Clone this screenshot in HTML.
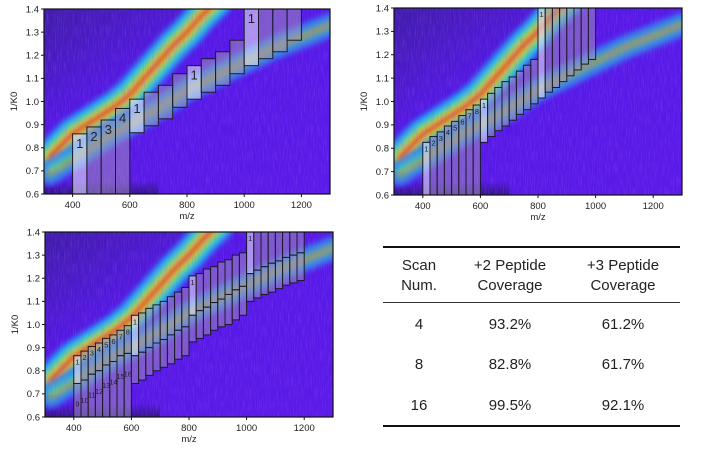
<!DOCTYPE html>
<html><head><meta charset="utf-8">
<style>
html,body{margin:0;padding:0;background:#fff;}
body{width:708px;height:449px;overflow:hidden;position:relative;font-family:"Liberation Sans",sans-serif;}
svg{position:absolute;left:0;top:0;}
text{font-family:"Liberation Sans",sans-serif;}
.tbl{position:absolute;font-size:15px;color:#222;text-align:center;}
</style></head>
<body>
<svg id="chart" width="708" height="449">
<defs>
<filter id="blur" x="-10%" y="-10%" width="120%" height="120%"><feGaussianBlur stdDeviation="2.5"/></filter>
<filter id="speckle" x="0" y="0" width="100%" height="100%">
<feTurbulence type="fractalNoise" baseFrequency="0.9 0.08" numOctaves="2" seed="3" result="n"/>
<feColorMatrix in="n" type="matrix" values="0 0 0 0 0.33  0 0 0 0 0.1  0 0 0 0 0.9  0 0 0 -2.2 1.25"/>
</filter>
<linearGradient id="bg" x1="0" y1="0" x2="1" y2="1">
<stop offset="0" stop-color="#3f1ca8"/><stop offset="0.35" stop-color="#5518e6"/><stop offset="1" stop-color="#5a1ae8"/>
</linearGradient>
<linearGradient id="bot" x1="0" y1="1" x2="0" y2="0">
<stop offset="0" stop-color="#2a1470" stop-opacity="0.8"/><stop offset="1" stop-color="#2a1470" stop-opacity="0"/>
</linearGradient>
</defs>
</svg>

<div>
<div style="position:absolute;left:383px;top:246px;width:297px;height:2px;background:#111;"></div>
<div style="position:absolute;left:383px;top:302px;width:297px;height:1px;background:#333;"></div>
<div style="position:absolute;left:383px;top:425px;width:297px;height:2px;background:#111;"></div>
<div class="tbl" style="left:369px;top:256px;width:100px;line-height:20px;">Scan<br>Num.</div>
<div class="tbl" style="left:450px;top:256px;width:120px;line-height:20px;">+2 Peptide<br>Coverage</div>
<div class="tbl" style="left:563px;top:256px;width:120px;line-height:20px;">+3 Peptide<br>Coverage</div>
<div class="tbl" style="left:369px;top:316px;width:100px;">4</div>
<div class="tbl" style="left:450px;top:316px;width:120px;">93.2%</div>
<div class="tbl" style="left:563px;top:316px;width:120px;">61.2%</div>
<div class="tbl" style="left:369px;top:356px;width:100px;">8</div>
<div class="tbl" style="left:450px;top:356px;width:120px;">82.8%</div>
<div class="tbl" style="left:563px;top:356px;width:120px;">61.7%</div>
<div class="tbl" style="left:369px;top:397px;width:100px;">16</div>
<div class="tbl" style="left:450px;top:397px;width:120px;">99.5%</div>
<div class="tbl" style="left:563px;top:397px;width:120px;">92.1%</div>
</div>

<script>
// density bands (m/z, 1/K0)
const upperBandMz = [320, 360, 400, 450, 500, 550, 600, 650, 700, 750, 800, 850, 900];
const upperBandK0 = [0.76, 0.81, 0.86, 0.90, 0.94, 0.98, 1.03, 1.10, 1.17, 1.24, 1.30, 1.37, 1.43];
const lowerBandMz = [320, 360, 400, 450, 500, 550, 600, 700, 800, 900, 1000, 1100, 1200, 1300];
const lowerBandK0 = [0.69, 0.72, 0.75, 0.79, 0.83, 0.87, 0.90, 0.97, 1.05, 1.11, 1.17, 1.23, 1.28, 1.33];
const xTicks = [400, 600, 800, 1000, 1200];
const yTicks = [0.6, 0.7, 0.8, 0.9, 1.0, 1.1, 1.2, 1.3, 1.4];

// 4-scan windows
const w4Start = [400,450,500,550,600,650,700,750,800,850,900,950,1000,1050,1100,1150];
const w4Low   = [0.6,0.6,0.6,0.6,0.865,0.895,0.925,0.975,1.01,1.04,1.07,1.12,1.155,1.185,1.215,1.265];
const w4High  = [0.86,0.89,0.92,0.97,1.01,1.04,1.07,1.12,1.155,1.185,1.215,1.265,1.4,1.4,1.4,1.4];
const w4Label = ["1","2","3","4","1","","","","1","","","","1","","",""];
const w4Width = 50;

// 8-scan windows
const w8Start = [400,425,450,475,500,525,550,575,600,625,650,675,700,725,750,775,800,825,850,875,900,925,950,975];
const w8Low   = [0.6,0.6,0.6,0.6,0.6,0.6,0.6,0.6,0.825,0.85,0.875,0.895,0.92,0.945,0.965,0.99,1.015,1.04,1.06,1.085,1.11,1.135,1.16,1.18];
const w8High  = [0.825,0.85,0.87,0.895,0.915,0.94,0.965,0.985,1.01,1.035,1.06,1.085,1.105,1.13,1.155,1.18,1.4,1.4,1.4,1.4,1.4,1.4,1.4,1.4];
const w8Label = ["1","2","3","4","5","6","7","8","1","","","","","","","","1","","","","","","",""];
const w8Width = 25;

// 16-scan windows (upper scan 1-8, lower scan 9-16 per column)
const w16Start = [400,425,450,475,500,525,550,575,600,625,650,675,700,725,750,775,800,825,850,875,900,925,950,975,1000,1025,1050,1075,1100,1125,1150,1175];
const w16Low   = [0.6,0.6,0.6,0.6,0.6,0.6,0.6,0.6,0.745,0.76,0.78,0.80,0.815,0.83,0.85,0.865,0.925,0.94,0.955,0.975,0.99,1.0,1.02,1.04,1.10,1.115,1.13,1.14,1.155,1.17,1.18,1.19];
const w16Mid   = [0.745,0.76,0.785,0.80,0.825,0.84,0.865,0.875,0.865,0.88,0.90,0.92,0.935,0.955,0.975,0.99,1.04,1.06,1.075,1.095,1.11,1.13,1.15,1.165,1.22,1.235,1.25,1.265,1.275,1.29,1.30,1.31];
const w16High  = [0.865,0.885,0.905,0.92,0.94,0.955,0.975,0.995,1.04,1.05,1.07,1.085,1.10,1.12,1.14,1.16,1.21,1.22,1.24,1.25,1.27,1.28,1.30,1.31,1.4,1.4,1.4,1.4,1.4,1.4,1.4,1.4];
const w16UpLabel = ["1","2","3","4","5","6","7","8","1","","","","","","","","1","","","","","","","","1","","","","","","",""];
const w16LoLabel = ["9","10","11","12","13","14","15","16","","","","","","","","","","","","","","","","","","","","","","","",""];
const w16Width = 25;

const NS = "http://www.w3.org/2000/svg";
const svg = document.getElementById('chart');
function mk(tag, attrs, parent){
  const e = document.createElementNS(NS, tag);
  for (const k in attrs) e.setAttribute(k, attrs[k]);
  (parent||svg).appendChild(e);
  return e;
}

function drawPlot(id, g){
  const xS = v => g.x0 + (v-300)/1000*(g.x1-g.x0);
  const yS = v => g.y1 - (v-0.6)/0.8*(g.y1-g.y0);
  const grp = mk('g', {});
  
  
  const clipId = id + '-clip';
  const cp = mk('clipPath', {id: clipId}, grp);
  mk('rect', {x:g.x0, y:g.y0, width:g.x1-g.x0, height:g.y1-g.y0}, cp);
  const heat = mk('g', {'clip-path':'url(#'+clipId+')'}, grp);
  
  
  mk('rect', {x:g.x0, y:g.y0, width:g.x1-g.x0, height:g.y1-g.y0, fill:'url(#bg)'}, heat);
  const bb = mk('rect', {x:g.x0, y:yS(0.66), width:(xS(700)-g.x0), height:yS(0.6)-yS(0.66), fill:'url(#bot)'}, heat);
  
  
  function band(mz, k0, widths, colors, op, name){
    let d = '';
    for (let i=0;i<mz.length;i++) d += (i?'L':'M') + xS(mz[i]).toFixed(1) + ' ' + yS(k0[i]).toFixed(1);
    const bg = mk('g', {filter:'url(#blur)', opacity:op}, heat);
    
    
    for (let j=0;j<widths.length;j++){
      mk('path', {d:d, fill:'none', stroke:colors[j], 'stroke-width':widths[j], 'stroke-linecap':'round', 'stroke-linejoin':'round'}, bg);
    }
  }
  band(upperBandMz, upperBandK0, [34,26,18,10,5], ['#2f6df5','#1fc8e8','#5ee05a','#e8d030','#e83a20'], 0.95, 'charge1-band');
  band(lowerBandMz, lowerBandK0, [26,18,10,4], ['#3a5ef0','#2aa8e8','#44c080','#a8c040'], 0.8, 'charge2-band');
  const sp = mk('rect', {x:g.x0, y:g.y0, width:g.x1-g.x0, height:g.y1-g.y0, filter:'url(#speckle)', opacity:0.3}, heat);
  
  
  // windows
  for (let i=0;i<g.start.length;i++){
    const x = xS(g.start[i]), w = xS(g.start[i]+g.width)-x;
    const boxes = g.mid ? [[g.mid[i], g.high[i], g.up[i]], [g.low[i], g.mid[i], g.lo[i]]] : [[g.low[i], g.high[i], g.up[i]]];
    boxes.forEach((b, bi) => {
      const scan1 = (bi===0 && b[2]==='1');
      const r = mk('rect', {x:x, y:yS(b[1]), width:w, height:yS(b[0])-yS(b[1]),
        fill: scan1 ? 'rgba(225,220,245,0.62)' : 'rgba(165,150,185,0.5)', stroke:'#1a1a2a', 'stroke-width':1}, heat);
      
      
      if (b[2]){
        const small = g.width < 50;
        let ty = yS(b[1]) + (small?9:14);
        if (bi===1) ty = yS(b[1]-0.1);
        const t = mk('text', {x:x+w/2, y:ty, 'text-anchor':'middle', 'font-size': small?7.5:13, fill:'#222'}, heat);
        t.textContent = b[2];
        
        
      }
    });
  }
  const fr = mk('rect', {x:g.x0, y:g.y0, width:g.x1-g.x0, height:g.y1-g.y0, fill:'none', stroke:'#111', 'stroke-width':1.2}, grp);
  
  
  xTicks.forEach(v => {
    mk('line', {x1:xS(v), x2:xS(v), y1:g.y1, y2:g.y1+3, stroke:'#111'}, grp);
    const t = mk('text', {x:xS(v), y:g.y1+14, 'text-anchor':'middle', 'font-size':9.5, fill:'#222'}, grp);
    t.textContent = v;
    
    
  });
  yTicks.forEach(v => {
    mk('line', {x1:g.x0-3, x2:g.x0, y1:yS(v), y2:yS(v), stroke:'#111'}, grp);
    const t = mk('text', {x:g.x0-5, y:yS(v)+3.3, 'text-anchor':'end', 'font-size':9.5, fill:'#222'}, grp);
    t.textContent = v.toFixed(1);
    
    
  });
  const xl = mk('text', {x:(g.x0+g.x1)/2, y:g.y1+25, 'text-anchor':'middle', 'font-size':9.5, fill:'#222'}, grp);
  xl.textContent = 'm/z';
  
  
  const yc = (g.y0+g.y1)/2, yx = g.x0-27;
  const yl = mk('text', {x:yx, y:yc, 'text-anchor':'middle', 'font-size':9.5, fill:'#222', transform:'rotate(-90 '+yx+' '+yc+')'}, grp);
  yl.textContent = '1/K0';
  
  
}

drawPlot('plot-4-scans', {x0:44, x1:330, y0:9, y1:194, start:w4Start, low:w4Low, high:w4High, up:w4Label, width:w4Width});
drawPlot('plot-8-scans', {x0:394, x1:682, y0:8, y1:195, start:w8Start, low:w8Low, high:w8High, up:w8Label, width:w8Width});
drawPlot('plot-16-scans', {x0:45, x1:333, y0:232, y1:417, start:w16Start, low:w16Low, mid:w16Mid, high:w16High, up:w16UpLabel, lo:w16LoLabel, width:w16Width});
</script>
</body></html>
